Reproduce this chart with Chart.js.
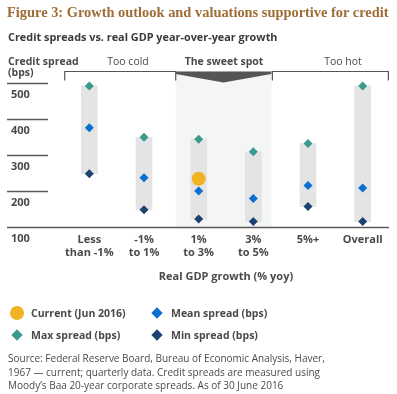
<!DOCTYPE html>
<html>
<head>
<meta charset="utf-8">
<script src="https://cdn.jsdelivr.net/npm/chart.js@4/dist/chart.umd.min.js"></script>
<style>
  html, body { margin: 0; padding: 0; background: #fff; }
  #wrap { position: relative; width: 397px; height: 394px; overflow: hidden; font-family: "Open Sans", sans-serif; color: #444; }
  #c { position: absolute; left: 0; top: 0; }
  .t { position: absolute; white-space: nowrap; }
  #title { left: 7px; top: 2px; font-family: "Liberation Serif", serif; font-weight: bold; font-size: 14px; line-height: 20px; color: #9e6d36; }
  #sub { left: 8px; top: 30px; font-weight: bold; font-size: 10.5px; line-height: 14px; color: #3a3a3a; }
  .hdr { top: 54px; font-size: 10.5px; line-height: 14px; color: #4a4a4a; }
  .b { font-weight: bold; }
  .leg { font-weight: bold; font-size: 10.5px; line-height: 14px; color: #4a4a4a; }
  .mk { position: absolute; }
  .src { left: 8px; font-size: 10px; line-height: 13.3px; color: #4a4a4a; }
</style>
</head>
<body>
<div id="wrap">
  <canvas id="c" width="397" height="394"></canvas>
  <div class="t" id="title" data-fit="382">Figure 3: Growth outlook and valuations supportive for credit</div>
  <div class="t" id="sub" data-fit="270">Credit spreads vs. real GDP year-over-year growth</div>
  <div class="t hdr b" style="left:8px;">Credit spread</div>
  <div class="t hdr b" style="left:8px;top:65px;">(bps)</div>
  <div class="t hdr" style="left:128px;transform:translateX(-50%);">Too cold</div>
  <div class="t hdr b" style="left:224px;transform:translateX(-50%);">The sweet spot</div>
  <div class="t hdr" style="left:343px;transform:translateX(-50%);">Too hot</div>

  <div class="mk" style="left:10px;top:306px;width:14px;height:14px;border-radius:50%;background:#f0b323;"></div>
  <div class="t leg" style="left:31px;top:306px;">Current (Jun 2016)</div>
  <div class="mk" style="left:153px;top:309px;width:8px;height:8px;transform:rotate(45deg);background:#0a6fd0;"></div>
  <div class="t leg" style="left:171px;top:306px;">Mean spread (bps)</div>
  <div class="mk" style="left:13px;top:331px;width:8px;height:8px;transform:rotate(45deg);background:#3a9a8c;"></div>
  <div class="t leg" style="left:31px;top:328px;">Max spread (bps)</div>
  <div class="mk" style="left:153px;top:331px;width:8px;height:8px;transform:rotate(45deg);background:#1c4272;"></div>
  <div class="t leg" style="left:171px;top:328px;">Min spread (bps)</div>

  <div class="t src" style="top:352px;">Source: Federal Reserve Board, Bureau of Economic Analysis, Haver,</div>
  <div class="t src" style="top:365.5px;">1967 — current; quarterly data. Credit spreads are measured using</div>
  <div class="t src" style="top:378.5px;">Moody’s Baa 20-year corporate spreads. As of 30 June 2016</div>
</div>
<script>
// ---- data ----
const categories = [["Less", "than -1%"], ["-1%", "to 1%"], ["1%", "to 3%"], ["3%", "to 5%"], ["5%+"], ["Overall"]];
const maxSpread  = [492, 349, 344, 309, 332, 492];
const meanSpread = [376, 237, 200, 179, 215, 208];
const minSpread  = [248, 148, 122, 115, 157, 115];
const currentSpread = [null, null, 234, null, null, null];
const yTicks = [100, 200, 300, 400, 500];
const axisTitle = "Real GDP growth (% yoy)";

const ranges = minSpread.map((v, i) => [v, maxSpread[i]]);

// fit header texts to their measured widths
document.querySelectorAll('[data-fit]').forEach(el => {
  const target = parseFloat(el.dataset.fit);
  const fs = parseFloat(getComputedStyle(el).fontSize);
  const w = el.getBoundingClientRect().width;
  el.style.fontSize = (fs * target / w) + 'px';
});

// light hatched gray pattern for the range bars
function makePattern() {
  const p = document.createElement('canvas');
  p.width = 4; p.height = 4;
  const g = p.getContext('2d');
  g.fillStyle = '#e5e5e5'; g.fillRect(0, 0, 4, 4);
  g.fillStyle = '#dddddd';
  g.fillRect(0, 0, 1, 1); g.fillRect(2, 2, 1, 1);
  return g.createPattern(p, 'repeat');
}
const hatch = makePattern();

const decor = {
  id: 'decor',
  beforeDatasetsDraw(chart) {
    const { ctx, chartArea } = chart;
    const x = chart.scales.x, y = chart.scales.y;
    const step = x.getPixelForValue(1) - x.getPixelForValue(0);
    const bottom = y.getPixelForValue(100);
    const topY = 71.5;
    // sweet spot shading
    const sL = x.getPixelForValue(2) - step * 0.42;
    const sR = x.getPixelForValue(3) + step * 0.33;
    ctx.save();
    ctx.fillStyle = '#f4f5f5';
    ctx.fillRect(sL, topY, sR - sL, bottom - topY);
    // dark chevron
    ctx.fillStyle = '#555555';
    ctx.beginPath();
    ctx.moveTo(sL, topY);
    ctx.lineTo(sR, topY);
    ctx.lineTo(sR, topY + 2.5);
    ctx.lineTo((sL + sR) / 2, topY + 11);
    ctx.lineTo(sL, topY + 2.5);
    ctx.closePath();
    ctx.fill();
    // brackets
    ctx.strokeStyle = '#555555';
    ctx.lineWidth = 1.2;
    const bracket = (a, b) => {
      ctx.beginPath();
      ctx.moveTo(a, topY + 9); ctx.lineTo(a, topY); ctx.lineTo(b, topY); ctx.lineTo(b, topY + 9);
      ctx.stroke();
    };
    bracket(x.getPixelForValue(0) - step * 0.45, sL);
    bracket(sR + 1, x.getPixelForValue(5) + step * 0.47);
    // y tick lines (in the label column) and baseline
    ctx.strokeStyle = '#5a5a5a';
    ctx.lineWidth = 1.3;
    yTicks.forEach(v => {
      const py = Math.round(y.getPixelForValue(v)) + 0.5;
      ctx.beginPath();
      ctx.moveTo(7, py);
      ctx.lineTo(v === 100 ? chartArea.right - 1 : 48, py);
      ctx.stroke();
    });
    ctx.restore();
  }
};

new Chart(document.getElementById('c'), {
  type: 'bar',
  data: {
    labels: categories,
    datasets: [
      { type: 'line', label: 'Current (Jun 2016)', data: currentSpread, showLine: false,
        pointStyle: 'circle', pointRadius: 7, backgroundColor: '#f0b323', borderColor: '#f0b323', borderWidth: 0, order: 1 },
      { type: 'line', label: 'Mean spread (bps)', data: meanSpread, showLine: false,
        pointStyle: 'rectRot', pointRadius: 4.5, backgroundColor: '#0a6fd0', borderColor: '#0a6fd0', borderWidth: 0, order: 2 },
      { type: 'line', label: 'Max spread (bps)', data: maxSpread, showLine: false,
        pointStyle: 'rectRot', pointRadius: 4.5, backgroundColor: '#3a9a8c', borderColor: '#3a9a8c', borderWidth: 0, order: 3 },
      { type: 'line', label: 'Min spread (bps)', data: minSpread, showLine: false,
        pointStyle: 'rectRot', pointRadius: 4.5, backgroundColor: '#1c4272', borderColor: '#1c4272', borderWidth: 0, order: 4 },
      { type: 'bar', label: 'Range', data: ranges, backgroundColor: hatch, borderWidth: 0,
        barThickness: 16, borderSkipped: false, order: 10 }
    ]
  },
  options: {
    responsive: false,
    animation: false,
    events: [],
    layout: { padding: { left: 11, right: 7, top: 65, bottom: 111 } },
    plugins: { legend: { display: false }, tooltip: { enabled: false } },
    scales: {
      x: {
        offset: true,
        grid: { display: false, drawTicks: false },
        border: { display: false },
        ticks: { color: '#4a4a4a', padding: 7, maxRotation: 0, autoSkip: false,
                 font: { family: 'Open Sans', weight: 'bold', size: 11, lineHeight: 1.15 } },
        title: { display: true, text: axisTitle, color: '#4a4a4a', padding: 0,
                 font: { family: 'Open Sans', weight: 'bold', size: 11, lineHeight: 1.2 } },
        afterFit(s) { s.height = 56; }
      },
      y: {
        min: 100, max: 550,
        afterBuildTicks(s) { s.ticks = yTicks.map(v => ({ value: v })); },
        grid: { display: false, drawTicks: false },
        border: { display: false },
        ticks: { color: '#4a4a4a', crossAlign: 'far', labelOffset: 12, padding: 0,
                 font: { family: 'Open Sans', weight: 'bold', size: 11 } },
        afterFit(s) { s.width = 51; }
      }
    }
  },
  plugins: [decor]
});
</script>
</body>
</html>
